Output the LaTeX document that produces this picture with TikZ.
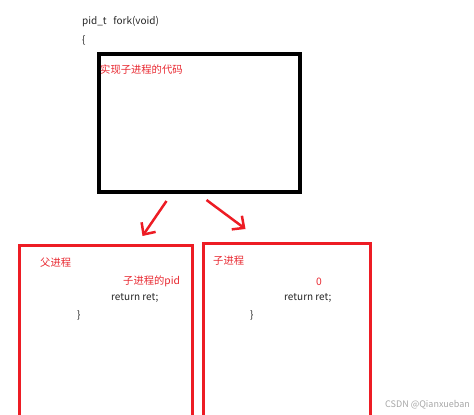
\documentclass[tikz,border=0pt]{standalone}
\usepackage{fontspec}
\setmainfont{Noto Sans CJK SC}
\usetikzlibrary{arrows.meta, positioning}
\definecolor{paintred}{RGB}{237,28,36}
\definecolor{textred}{RGB}{232,40,48}
\tikzstyle{codebox} = [rectangle, draw=black, line width=4pt, minimum width=201pt, minimum height=138pt, anchor=north west, inner sep=0pt]
\tikzstyle{procbox} = [rectangle, draw=paintred, line width=3pt, minimum width=173pt, minimum height=200pt, anchor=north west, inner sep=0pt]
\tikzstyle{redtext} = [text=textred, font=\fontsize{10.3}{12}\selectfont, inner sep=0pt, anchor=west]
\tikzstyle{code} = [text=black!85, font=\fontsize{10}{12}\selectfont, inner sep=0pt, anchor=west]
\tikzstyle{arrow} = [draw=paintred, line width=2.5pt, -{Straight Barb[length=9pt,width=17pt]}]

\begin{document}
\begin{tikzpicture}[x=1pt, y=-1pt]
        \useasboundingbox (0,0) rectangle (474,415);

        \node (head) [code] at (82,22) {pid\_t\ \ \ fork(void)};
        \node (open) [code, below=18pt of head.west, anchor=west] {\{};
        \node (forkbox) [codebox] at (97,52) {};
        \node (forktext) [redtext] at (100,70) {实现子进程的代码};

        \node (parentbox) [procbox] at (18,244) {};
        \node (childbox) [procbox, minimum width=167pt] at (202,242) {};

        \node (parenttitle) [redtext] at (40,263) {父进程};
        \node (parentpid) [redtext] at (123,281) {子进程的pid};
        \node (parentret) [code] at (111,298) {return ret;};
        \node (parentclose) [code] at (77,315) {\}};

        \node (childtitle) [redtext] at (213,261) {子进程};
        \node (childzero) [redtext] at (316,282) {0};
        \node (childret) [code] at (284,298) {return ret;};
        \node (childclose) [code] at (250,315) {\}};

        \node (mark) [text=black!35, font=\fontsize{9}{10}\selectfont, inner sep=0pt, anchor=west] at (385,405) {CSDN @Qianxueban};

        \coordinate (leftfrom) at ([xshift=-33pt, yshift=-7pt]forkbox.south);
        \coordinate (leftto) at ([xshift=-57pt, yshift=-42pt]forkbox.south);
        \coordinate (rightfrom) at ([xshift=7pt, yshift=-6pt]forkbox.south);
        \coordinate (rightto) at ([xshift=46pt, yshift=-35pt]forkbox.south);

        \draw [arrow] (leftfrom) -- (leftto);
        \draw [arrow] (rightfrom) -- (rightto);

      \end{tikzpicture}
\end{document}
